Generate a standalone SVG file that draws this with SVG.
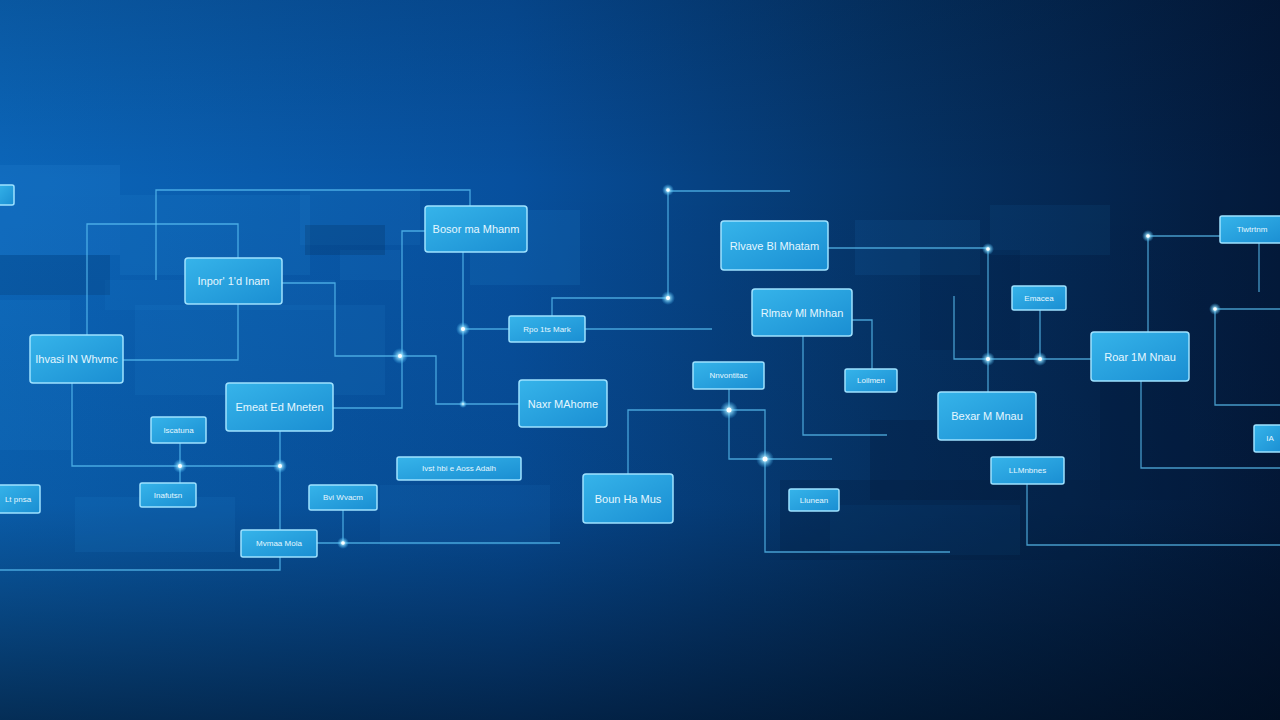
<svg xmlns="http://www.w3.org/2000/svg" width="1280" height="720" viewBox="0 0 1280 720">
<defs>
<linearGradient id="bgx" x1="0" y1="0" x2="1" y2="0">
<stop offset="0" stop-color="#0b66ba"/>
<stop offset="0.4" stop-color="#07509e"/>
<stop offset="0.7" stop-color="#053366"/>
<stop offset="1" stop-color="#03193a"/>
</linearGradient>
<linearGradient id="bgy" x1="0" y1="0" x2="0" y2="1">
<stop offset="0" stop-color="#000814" stop-opacity="0.15"/>
<stop offset="0.25" stop-color="#000814" stop-opacity="0"/>
<stop offset="0.7" stop-color="#000814" stop-opacity="0.1"/>
<stop offset="1" stop-color="#000814" stop-opacity="0.6"/>
</linearGradient>
<linearGradient id="box" x1="0" y1="0" x2="1" y2="1">
<stop offset="0" stop-color="#36b4ea"/>
<stop offset="1" stop-color="#1a8ed2"/>
</linearGradient>
<radialGradient id="glow">
<stop offset="0" stop-color="#ffffff" stop-opacity="1"/>
<stop offset="0.3" stop-color="#9fe6ff" stop-opacity="0.8"/>
<stop offset="1" stop-color="#3bbcff" stop-opacity="0"/>
</radialGradient>
<linearGradient id="fadeR" x1="0" y1="0" x2="1" y2="0">
<stop offset="0" stop-color="#6fd0ff" stop-opacity="0.8"/>
<stop offset="1" stop-color="#6fd0ff" stop-opacity="0"/>
</linearGradient>
</defs>
<style>
.n rect{fill:url(#box);stroke:#9fe2ff;stroke-width:1.5}
.n text{font-family:"Liberation Sans",Arial,sans-serif;fill:#e4f7ff;text-anchor:middle;dominant-baseline:central}
.b text{font-size:11px}
.s text{font-size:8px}
.c path{fill:none;stroke:#5cc4f5;stroke-width:1.3;stroke-opacity:0.75}
.p{fill:#2a8ad8}
.d{fill:#021a3c}
</style>
<rect width="1280" height="720" fill="url(#bgx)"/>
<rect width="1280" height="720" fill="url(#bgy)"/>
<g id="panels">
<rect class="p" x="0" y="165" width="120" height="90" opacity="0.18"/>
<rect class="p" x="120" y="195" width="190" height="80" opacity="0.15"/>
<rect class="p" x="300" y="190" width="120" height="55" opacity="0.12"/>
<rect class="p" x="470" y="210" width="110" height="75" opacity="0.15"/>
<rect class="p" x="340" y="250" width="60" height="30" opacity="0.12"/>
<rect class="p" x="0" y="300" width="70" height="150" opacity="0.12"/>
<rect class="p" x="135" y="305" width="250" height="90" opacity="0.12"/>
<rect class="p" x="105" y="280" width="230" height="30" opacity="0.1"/>
<rect class="p" x="75" y="497" width="160" height="55" opacity="0.12"/>
<rect class="p" x="380" y="485" width="170" height="60" opacity="0.1"/>
<rect class="d" x="0" y="255" width="110" height="40" opacity="0.15"/>
<rect class="d" x="305" y="225" width="80" height="30" opacity="0.18"/>
<rect class="p" x="855" y="220" width="125" height="55" opacity="0.1"/>
<rect class="p" x="990" y="205" width="120" height="50" opacity="0.08"/>
<rect class="d" x="1100" y="380" width="90" height="120" opacity="0.3"/>
<rect class="d" x="870" y="420" width="150" height="80" opacity="0.3"/>
<rect class="d" x="780" y="480" width="330" height="80" opacity="0.25"/>
<rect class="p" x="830" y="505" width="190" height="50" opacity="0.06"/>
<rect class="d" x="1180" y="190" width="100" height="130" opacity="0.25"/>
<rect class="d" x="920" y="250" width="100" height="100" opacity="0.2"/>
</g>
<g id="connectors" class="c">
<path d="M156,280 V190 H470 V206"/>
<path d="M87,335 V224 H238 V360 H123"/>
<path d="M282,283 H335 V356 H400"/>
<path d="M333,408 H402 V231 H425"/>
<path d="M400,356 H436 V404 H519"/>
<path d="M463,252 V404"/>
<path d="M463,329 H509"/>
<path d="M552,316 V298 H668"/>
<path d="M668,298 V190"/>
<path d="M668,191 H790" stroke="url(#fadeR)"/>
<path d="M585,329 H712" stroke-opacity="0.5"/>
<path d="M828,248 H988 V392"/>
<path d="M954,296 V359 H1091"/>
<path d="M1040,310 V359"/>
<path d="M852,320 H872 V369"/>
<path d="M803,336 V435 H887"/>
<path d="M1141,381 V468 H1280"/>
<path d="M1148,332 V236 H1220"/>
<path d="M1259,243 V292"/>
<path d="M1215,309 H1280"/>
<path d="M1215,309 V405 H1280"/>
<path d="M1027,484 V545 H1280"/>
<path d="M729,389 V459 H832"/>
<path d="M628,474 V410 H765 V552 H950"/>
<path d="M72,383 V466 H280"/>
<path d="M180,443 V483"/>
<path d="M280,431 V570 H0"/>
<path d="M343,510 V543"/>
<path d="M317,543 H560" stroke-opacity="0.4"/>
<path d="M40,500 H0"/>
</g>
<g id="dots">
<circle cx="400" cy="356" r="8" fill="url(#glow)"/><circle cx="400" cy="356" r="2" fill="#fff"/>
<circle cx="463" cy="329" r="7" fill="url(#glow)"/><circle cx="463" cy="329" r="2" fill="#fff"/>
<circle cx="668" cy="298" r="7" fill="url(#glow)"/><circle cx="668" cy="298" r="2" fill="#fff"/>
<circle cx="668" cy="190" r="6" fill="url(#glow)"/><circle cx="668" cy="190" r="1.8" fill="#fff"/>
<circle cx="988" cy="249" r="6" fill="url(#glow)"/><circle cx="988" cy="249" r="1.8" fill="#fff"/>
<circle cx="988" cy="359" r="7" fill="url(#glow)"/><circle cx="988" cy="359" r="2" fill="#fff"/>
<circle cx="1040" cy="359" r="7" fill="url(#glow)"/><circle cx="1040" cy="359" r="2" fill="#fff"/>
<circle cx="1148" cy="236" r="6" fill="url(#glow)"/><circle cx="1148" cy="236" r="1.8" fill="#fff"/>
<circle cx="1215" cy="309" r="6" fill="url(#glow)"/><circle cx="1215" cy="309" r="1.8" fill="#fff"/>
<circle cx="729" cy="410" r="9" fill="url(#glow)"/><circle cx="729" cy="410" r="2.5" fill="#fff"/>
<circle cx="765" cy="459" r="9" fill="url(#glow)"/><circle cx="765" cy="459" r="2.5" fill="#fff"/>
<circle cx="180" cy="466" r="7" fill="url(#glow)"/><circle cx="180" cy="466" r="2" fill="#fff"/>
<circle cx="280" cy="466" r="7" fill="url(#glow)"/><circle cx="280" cy="466" r="2" fill="#fff"/>
<circle cx="343" cy="543" r="6" fill="url(#glow)"/><circle cx="343" cy="543" r="1.8" fill="#fff"/>
<circle cx="463" cy="404" r="4" fill="url(#glow)"/>
</g>
<g id="n1" class="n s"><rect x="-4" y="185" width="18" height="20" rx="2"/></g>
<g id="n2" class="n b"><rect x="185" y="258" width="97" height="46" rx="3"/><text x="233.5" y="281">Inpor' 1'd Inam</text></g>
<g id="n3" class="n b"><rect x="30" y="335" width="93" height="48" rx="3"/><text x="76.5" y="359">Ihvasi IN Whvmc</text></g>
<g id="n4" class="n b"><rect x="226" y="383" width="107" height="48" rx="3"/><text x="279.5" y="407">Emeat Ed Mneten</text></g>
<g id="n5" class="n b"><rect x="425" y="206" width="102" height="46" rx="3"/><text x="476" y="229">Bosor ma Mhanm</text></g>
<g id="n6" class="n s"><rect x="509" y="316" width="76" height="26" rx="2"/><text x="547" y="329">Rpo 1ts Mark</text></g>
<g id="n7" class="n b"><rect x="519" y="380" width="88" height="47" rx="3"/><text x="563" y="404">Naxr MAhome</text></g>
<g id="n8" class="n b"><rect x="721" y="221" width="107" height="49" rx="3"/><text x="774.5" y="246">Rlvave Bl Mhatam</text></g>
<g id="n9" class="n b"><rect x="752" y="289" width="100" height="47" rx="3"/><text x="802" y="313">Rlmav Ml Mhhan</text></g>
<g id="n10" class="n s"><rect x="693" y="362" width="71" height="27" rx="2"/><text x="728.5" y="375.5">Nnvontitac</text></g>
<g id="n11" class="n s"><rect x="845" y="369" width="52" height="23" rx="2"/><text x="871" y="380.5">Loilmen</text></g>
<g id="n12" class="n s"><rect x="1012" y="286" width="54" height="24" rx="2"/><text x="1039" y="298">Emacea</text></g>
<g id="n13" class="n b"><rect x="938" y="392" width="98" height="48" rx="3"/><text x="987" y="416">Bexar M Mnau</text></g>
<g id="n14" class="n b"><rect x="1091" y="332" width="98" height="49" rx="3"/><text x="1140" y="357">Roar 1M Nnau</text></g>
<g id="n15" class="n s"><rect x="1220" y="216" width="64" height="27" rx="2"/><text x="1252" y="229.5">Tlwtrtnm</text></g>
<g id="n16" class="n s"><rect x="1254" y="425" width="30" height="27" rx="2"/><text x="1270" y="438.5">IA</text></g>
<g id="n17" class="n s"><rect x="991" y="457" width="73" height="27" rx="2"/><text x="1027.5" y="470.5">LLMnbnes</text></g>
<g id="n18" class="n b"><rect x="583" y="474" width="90" height="49" rx="3"/><text x="628" y="498.5">Boun Ha Mus</text></g>
<g id="n19" class="n s"><rect x="789" y="489" width="50" height="22" rx="2"/><text x="814" y="500">Llunean</text></g>
<g id="n20" class="n s"><rect x="397" y="457" width="124" height="23" rx="2"/><text x="459" y="468.5">Ivst hbi e Aoss Adalh</text></g>
<g id="n21" class="n s"><rect x="309" y="485" width="68" height="25" rx="2"/><text x="343" y="497.5">Bvi Wvacm</text></g>
<g id="n22" class="n s"><rect x="241" y="530" width="76" height="27" rx="2"/><text x="279" y="543.5">Mvmaa Mola</text></g>
<g id="n23" class="n s"><rect x="140" y="483" width="56" height="24" rx="2"/><text x="168" y="495">Inafutsn</text></g>
<g id="n24" class="n s"><rect x="151" y="417" width="55" height="26" rx="2"/><text x="178.5" y="430">Iscatuna</text></g>
<g id="n25" class="n s"><rect x="-4" y="485" width="44" height="28" rx="2"/><text x="18" y="499">Lt pnsa</text></g>
</svg>
